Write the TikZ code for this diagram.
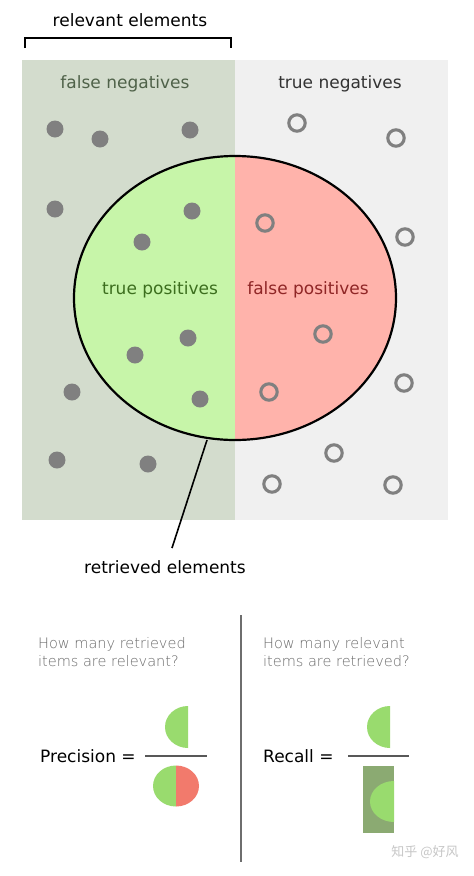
\documentclass[tikz,border=0pt]{standalone}
\usepackage{fontspec}
\setmainfont{DejaVu Sans}
\newfontfamily\thinfont{DejaVuSans-ExtraLight.ttf}
\newfontfamily\cjk{Noto Sans CJK SC}
\usetikzlibrary{calc}
\definecolor{fnback}{HTML}{D3DCCD}
\definecolor{tnback}{HTML}{F0F0F0}
\definecolor{tpfill}{HTML}{C7F5A9}
\definecolor{fpfill}{HTML}{FFB3AB}
\definecolor{dotgray}{HTML}{808080}
\definecolor{fntext}{HTML}{4F6249}
\definecolor{tntext}{HTML}{333333}
\definecolor{tptext}{HTML}{3C6E1E}
\definecolor{fptext}{HTML}{8F2626}
\definecolor{halfgreen}{HTML}{99DB6E}
\definecolor{halfred}{HTML}{F27A6C}
\definecolor{recbox}{HTML}{8BAA72}
\definecolor{qgray}{HTML}{6A6A6A}
\definecolor{rule}{HTML}{6E6E6E}

\begin{document}
\begin{tikzpicture}[
  x=1pt,y=-1pt,
  caption/.style={font=\fontsize{17}{20}\selectfont,inner sep=0pt},
  question/.style={font=\thinfont\fontsize{14.5}{18}\selectfont,text=qgray,align=left,anchor=west,inner sep=0pt},
  formula/.style={font=\fontsize{17}{20}\selectfont,anchor=west,inner sep=0pt},
  dot/.style={fill=dotgray},
  ring/.style={draw=dotgray,line width=3.1pt},
  fracline/.style={draw=rule!80!black,line width=1.8pt}
]
  \useasboundingbox (0,0) rectangle (474,876);
  \fill[white] (0,0) rectangle (474,876);

  % top: sets
  \node[caption] (relev) at (130,20) {relevant elements};
  \draw[line width=1.6pt] (25,48) -- (25,38) -- (231,38) -- (231,48);
  \fill[fnback] (22,60) rectangle (235,520);
  \fill[tnback] (235,60) rectangle (448,520);
  \node[caption,text=fntext] (fn) at (125,84) {false negatives};
  \node[caption,text=tntext] (tn) at (340,84) {true negatives};

  \begin{scope}
    \clip (22,60) rectangle (235,520);
    \fill[tpfill] (235,298) ellipse [x radius=161,y radius=142];
  \end{scope}
  \begin{scope}
    \clip (235,60) rectangle (448,520);
    \fill[fpfill] (235,298) ellipse [x radius=161,y radius=142];
  \end{scope}
  \draw[line width=2.2pt] (235,298) ellipse [x radius=161,y radius=142];
  \node[caption,text=tptext] (tp) at (160,290) {true positives};
  \node[caption,text=fptext] (fp) at (308,290) {false positives};

  % relevant items
  \foreach \px/\py in {55/129,100/139,190/130,55/209,192/211,142/242,
                       188/338,135/355,200/399,72/392,57/460,148/464}
    \fill[dot] (\px,\py) circle (8.5);
  % irrelevant items
  \foreach \px/\py in {297/123,396/138,265/223,405/237,323/334,
                       269/392,404/383,334/453,272/484,393/485}
    \draw[ring] (\px,\py) circle (8.2);

  \node[caption] (retr) at (165,567) {retrieved elements};
  \coordinate (rtip) at (207,440);
  \coordinate (rend) at (172,548);
  \draw[line width=1.6pt] (rtip) -- (rend);

  % bottom: formulas
  \draw[draw=rule,line width=1.6pt] (241,615) -- (241,862);
  \node[question] (qprec) at (38,652) {How many retrieved\\items are relevant?};
  \node[question] (qrec) at (263,652) {How many relevant\\items are retrieved?};

  \node[formula] (prec) at (40,756) {Precision =};
  \draw[fracline] (145,756) -- (207,756);
  \fill[halfgreen] (188,748) arc[start angle=90,end angle=270,x radius=23,y radius=21] -- cycle;
  \fill[halfgreen] (176,806.5) arc[start angle=90,end angle=270,x radius=23,y radius=20.5] -- cycle;
  \fill[halfred] (176,765.5) arc[start angle=-90,end angle=90,x radius=23,y radius=20.5] -- cycle;

  \node[formula] (rec) at (263,756) {Recall =};
  \draw[fracline] (348,756) -- (409,756);
  \fill[halfgreen] (390,748) arc[start angle=90,end angle=270,x radius=23,y radius=21] -- cycle;
  \fill[recbox] (363,766) rectangle (394,833);
  \fill[halfgreen] (394,822) arc[start angle=90,end angle=270,x radius=24,y radius=20.5] -- cycle;

  \node[font=\cjk\fontsize{13}{15}\selectfont,text=black!22,inner sep=0pt] (wm) at (425,852) {知乎 @好风};
\end{tikzpicture}
\end{document}
